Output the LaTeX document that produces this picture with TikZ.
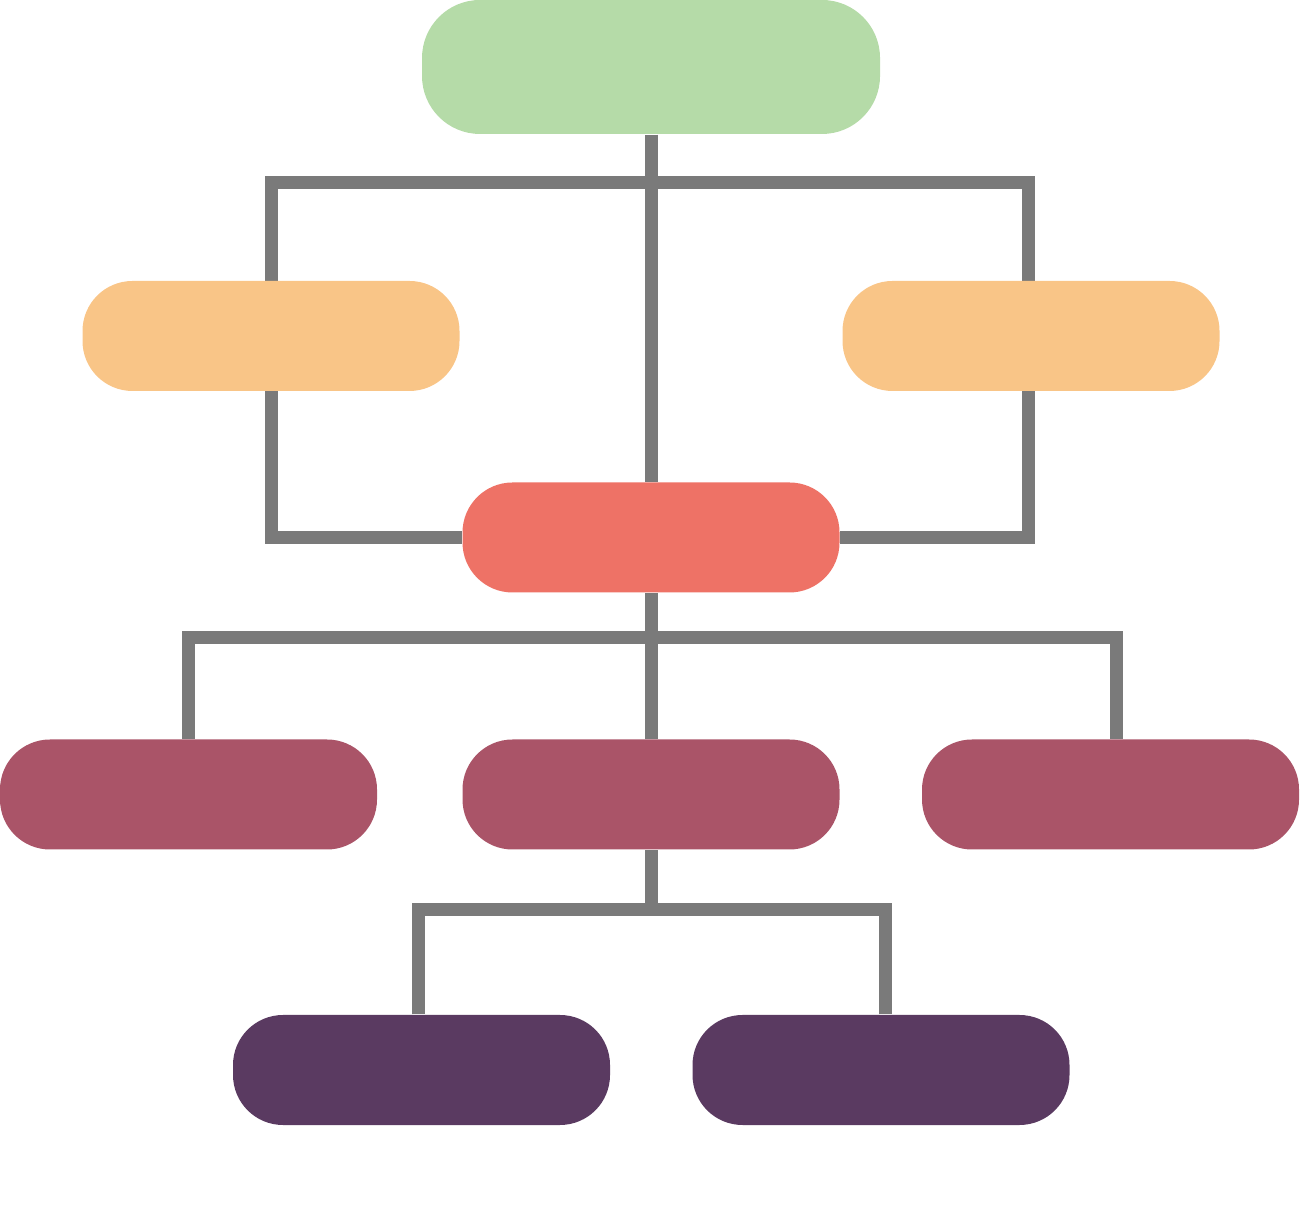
\documentclass[tikz,border=0pt]{standalone}
\usetikzlibrary{backgrounds}
\definecolor{boxgreen}{HTML}{B5DBA8}
\definecolor{boxorange}{HTML}{F9C587}
\definecolor{boxred}{HTML}{EE7266}
\definecolor{boxmaroon}{HTML}{AA5468}
\definecolor{boxpurple}{HTML}{5A3A61}
\definecolor{linkgray}{HTML}{7A7A7A}
\tikzset{
	pill/.style={rectangle, rounded corners=0.5cm, draw=none, inner sep=0pt,
	minimum width=3.77cm, minimum height=1.1cm},
	link/.style={draw=linkgray, line width=0.13cm, line join=miter}
}
\begin{document}
\begin{tikzpicture}
	\useasboundingbox (0, 0) rectangle (13, 12.16);
	% Kaesten
	\node[pill, fill=boxgreen, rounded corners=0.58cm, minimum width=4.58cm, minimum height=1.34cm] (top) at (6.51, 11.49) {};
	\node[pill, fill=boxorange] (lo) at (2.71, 8.80) {};
	\node[pill, fill=boxorange] (ro) at (10.31, 8.80) {};
	\node[pill, fill=boxred] (red) at (6.51, 6.785) {};
	\node[pill, fill=boxmaroon] (ml) at (1.885, 4.215) {};
	\node[pill, fill=boxmaroon] (mm) at (6.51, 4.215) {};
	\node[pill, fill=boxmaroon] (mr) at (11.105, 4.215) {};
	\node[pill, fill=boxpurple] (pl) at (4.215, 1.46) {};
	\node[pill, fill=boxpurple] (pr) at (8.81, 1.46) {};
	% Verzweigungen
	\coordinate (jtop) at (6.51, 10.33);
	\coordinate (jmid) at (6.51, 5.78);
	\coordinate (jlow) at (6.51, 3.06);
	% Linien
	\begin{pgfonlayer}{background}
		\draw[link] (top) -- (red);
		\draw[link] (red.west) -| (lo.center) |- (jtop);
		\draw[link] (red.east) -| ([xshift=-0.03cm]ro.center) |- (jtop);
		\draw[link] (red) -- (mm);
		\draw[link] (ml.north) |- (jmid);
		\draw[link] ([xshift=0.06cm]mr.north) |- (jmid);
		\draw[link] (mm) -- (jlow);
		\draw[link] ([xshift=-0.03cm]pl.north) |- (jlow);
		\draw[link] ([xshift=0.04cm]pr.north) |- (jlow);
	\end{pgfonlayer}
\end{tikzpicture}
\end{document}
